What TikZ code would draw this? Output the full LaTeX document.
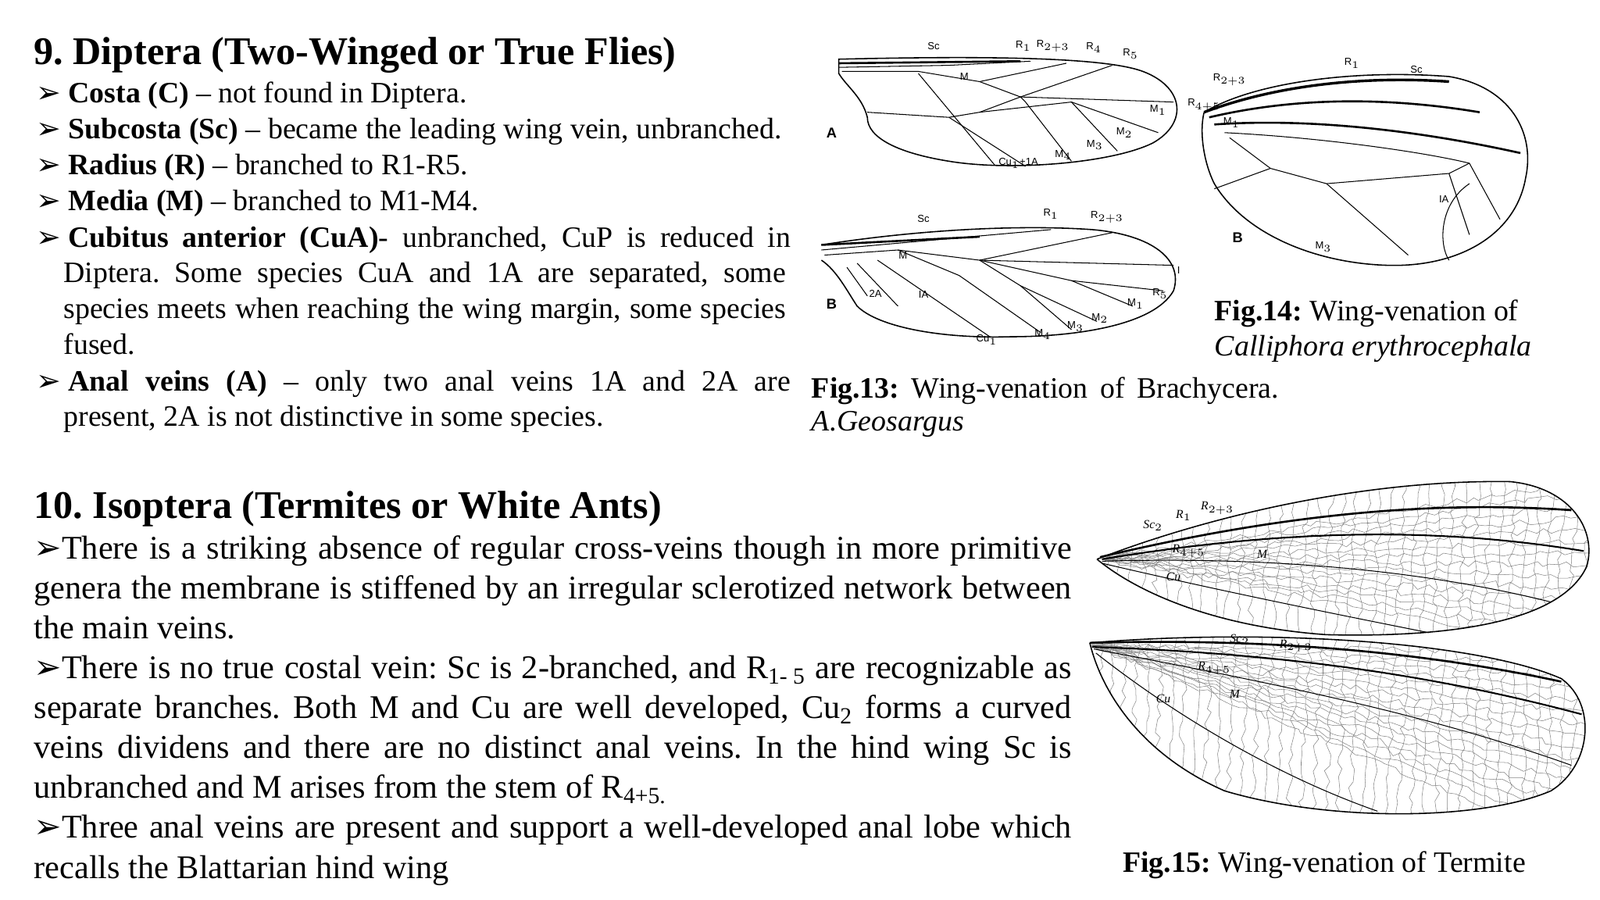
\documentclass[tikz,border=0pt]{standalone}
\usepackage{fontspec}
\setmainfont{Liberation Serif}
\setsansfont{Liberation Sans}
\newfontfamily\dv{DejaVu Sans}
\usetikzlibrary{decorations.pathmorphing}
\frenchspacing
\newcommand{\bul}{{\dv\char"27A2}}
\newcommand{\jl}[2]{\makebox[#1pt][s]{#2}}
\tikzset{
 x=0.5pt,y=-0.5pt,
 ttl/.style={anchor=base west,inner sep=0,font=\fontsize{19.2}{19}\selectfont\bfseries},
 ln/.style={anchor=base west,inner sep=0,font=\fontsize{14.5}{15}\selectfont},
 ln2/.style={anchor=base west,inner sep=0,font=\fontsize{16.2}{17}\selectfont},
 figcap/.style={anchor=base west,inner sep=0,font=\fontsize{14.5}{15}\selectfont},
 lab/.style={inner sep=0,font=\sffamily\fontsize{5}{5}\selectfont},
 tlab/.style={inner sep=0,font=\itshape\fontsize{6}{6}\selectfont},
 wing/.style={line width=0.6pt},
 vein/.style={line width=0.4pt},
 net/.style={line width=0.2pt,gray,decorate,decoration={random steps,segment length=4pt,amplitude=1.5pt}}
}
\begin{document}
\begin{tikzpicture}
\useasboundingbox (0,0) rectangle (1568,882);
% ---------- Diptera text
\node[ttl] (t9) at (33,63) {9. Diptera (Two-Winged or True Flies)};
\node[ln] (d1) at (35,101) {\bul\ \textbf{Costa (C)} – not found in Diptera.};
\node[ln] (d2) at (35,136) {\bul\ \textbf{Subcosta (Sc)} – became the leading wing vein, unbranched.};
\node[ln] (d3) at (35,171) {\bul\ \textbf{Radius (R)} – branched to R1-R5.};
\node[ln] (d4) at (35,206) {\bul\ \textbf{Media (M)} – branched to M1-M4.};
\node[ln] (d5) at (35,242) {\bul\ \jl{354}{\textbf{Cubitus anterior (CuA)}- unbranched, CuP is reduced in}};
\node[ln] (d6) at (62,277) {\jl{354}{Diptera. Some species CuA and 1A are separated, some}};
\node[ln] (d7) at (62,312) {\jl{354}{species meets when reaching the wing margin, some species}};
\node[ln] (d8) at (62,347) {fused.};
\node[ln] (d9) at (35,383) {\bul\ \jl{354}{\textbf{Anal veins (A)} – only two anal veins 1A and 2A are}};
\node[ln] (d10) at (62,418) {present, 2A is not distinctive in some species.};
% ---------- Isoptera text
\node[ttl] (t10) at (33,508) {10. Isoptera (Termites or White Ants)};
\node[ln2] (i1) at (33,548) {\jl{508.5}{\bul There is a striking absence of regular cross-veins though in more primitive}};
\node[ln2] (i2) at (33,587) {\jl{508.5}{genera the membrane is stiffened by an irregular sclerotized network between}};
\node[ln2] (i3) at (33,626) {the main veins.};
\node[ln2] (i4) at (33,665) {\jl{508.5}{\bul There is no true costal vein: Sc is 2-branched, and R\textsubscript{1- 5} are recognizable as}};
\node[ln2] (i5) at (33,704) {\jl{508.5}{separate branches. Both M and Cu are well developed, Cu\textsubscript{2} forms a curved}};
\node[ln2] (i6) at (33,743) {\jl{508.5}{veins dividens and there are no distinct anal veins. In the hind wing Sc is}};
\node[ln2] (i7) at (33,782) {unbranched and M arises from the stem of R\textsubscript{4+5.}};
\node[ln2] (i8) at (33,821) {\jl{508.5}{\bul Three anal veins are present and support a well-developed anal lobe which}};
\node[ln2] (i9) at (33,861) {recalls the Blattarian hind wing};
% ---------- captions
\node[figcap] (c13a) at (795,390) {\jl{229}{\textbf{Fig.13:} Wing-venation of Brachycera.}};
\node[figcap] (c13b) at (795,422) {\textit{A.Geosargus}};
\node[figcap] (c14a) at (1190,314) {\textbf{Fig.14:} Wing-venation of};
\node[figcap] (c14b) at (1190,349) {\textit{Calliphora erythrocephala}};
\node[figcap] (c15) at (1100,855) {\textbf{Fig.15:} Wing-venation of Termite};
% ---------- Fig 13 A
\draw[wing] (822,72) -- (822,58) .. controls (950,55) and (1080,55) .. (1120,70) .. controls (1160,85) and (1165,120) .. (1130,140) .. controls (1090,160) and (990,168) .. (930,158) .. controls (880,150) and (850,135) .. (850,115) .. controls (845,95) and (830,85) .. (822,72);
\draw[line width=1pt] (822,62) -- (1000,60);
\draw[vein] (822,66) -- (930,64) -- (1010,60);
\draw[vein] (825,70) -- (900,70) -- (960,80) -- (1045,62);
\draw[vein] (960,80) -- (1000,95) -- (1090,64);
\draw[vein] (1000,95) -- (1150,100);
\draw[vein] (1000,95) -- (960,110) -- (930,115) -- (850,110);
\draw[vein] (960,110) -- (1050,100) -- (1135,130);
\draw[vein] (1050,100) -- (1095,148);
\draw[vein] (1000,95) -- (1005,100) -- (1050,158);
\draw[vein] (930,115) -- (1005,163);
\draw[vein] (900,72) -- (975,162);
\node[lab] (a1) at (915,45) {Sc};\node[lab] (a2) at (1003,45) {R$_1$};\node[lab] (a3) at (1032,45) {R$_{2+3}$};
\node[lab] (a4) at (1072,47) {R$_4$};\node[lab] (a5) at (1108,53) {R$_5$};\node[lab] (a6) at (945,75) {M};
\node[lab] (a7) at (1135,108) {M$_1$};\node[lab] (a8) at (1102,130) {M$_2$};\node[lab] (a9) at (1073,142) {M$_3$};
\node[lab] (a10) at (1042,152) {M$_4$};\node[lab] (a11) at (998,160) {Cu$_1$+1A};
\node[lab,font=\sffamily\bfseries\fontsize{7}{7}\selectfont] (a12) at (815,130) {A};
% ---------- Fig 13 B
\draw[wing] (805,240) .. controls (900,225) and (1000,220) .. (1070,225) .. controls (1130,230) and (1160,255) .. (1150,285) .. controls (1130,320) and (1050,330) .. (990,330) .. controls (920,332) and (860,320) .. (840,300) .. controls (830,285) and (820,265) .. (805,255);
\draw[line width=1pt] (805,240) -- (960,232);
\draw[vein] (805,245) -- (1030,225);
\draw[vein] (808,250) -- (880,245) -- (960,255) -- (1090,228);
\draw[vein] (960,255) -- (1150,260);
\draw[vein] (960,255) -- (1050,275) -- (1140,285);
\draw[vein] (1050,275) -- (1110,300);
\draw[vein] (960,255) -- (1000,280) -- (1075,315);
\draw[vein] (1000,280) -- (1050,323);
\draw[vein] (880,245) -- (940,270) -- (1020,326);
\draw[vein] (860,255) -- (970,330);
\draw[vein] (830,262) -- (850,290);
\draw[vein] (840,258) -- (880,300);
\node[lab] (b1) at (905,214) {Sc};\node[lab] (b2) at (1030,210) {R$_1$};\node[lab] (b3) at (1085,213) {R$_{2+3}$};
\node[lab] (b4) at (885,250) {M};\node[lab] (b5) at (858,288) {2A};\node[lab] (b6) at (905,289) {IA};
\node[lab] (b7) at (1137,288) {R$_5$};\node[lab] (b8) at (1113,298) {M$_1$};\node[lab] (b9) at (1078,312) {M$_2$};
\node[lab] (b10) at (1054,320) {M$_3$};\node[lab] (b11) at (1022,328) {M$_4$};\node[lab] (b12) at (967,333) {Cu$_1$};
\node[lab] (b13) at (1155,265) {I};
\node[lab,font=\sffamily\bfseries\fontsize{7}{7}\selectfont] (b14) at (815,298) {B};
% ---------- Fig 14
\draw[wing] (1180,110) .. controls (1230,80) and (1330,68) .. (1420,75) .. controls (1480,85) and (1505,130) .. (1495,175) .. controls (1485,230) and (1430,262) .. (1360,260) .. controls (1290,258) and (1220,230) .. (1190,180) .. controls (1180,160) and (1175,130) .. (1180,110);
\draw[line width=1.3pt] (1180,110) .. controls (1260,80) and (1350,75) .. (1420,80);
\draw[line width=1pt] (1185,115) .. controls (1270,95) and (1360,95) .. (1450,110);
\draw[line width=1pt] (1190,122) .. controls (1290,115) and (1400,130) .. (1490,150);
\draw[vein] (1200,130) .. controls (1300,135) and (1400,150) .. (1440,160) -- (1470,215);
\draw[vein] (1440,160) -- (1420,170) -- (1300,180) -- (1245,165) -- (1205,135);
\draw[vein] (1300,180) -- (1380,250);
\draw[vein] (1420,170) -- (1440,230);
\draw[vein] (1245,165) -- (1190,185);
\draw[vein] (1440,180) .. controls (1410,200) and (1410,240) .. (1420,255);
\node[lab] (f1) at (1325,62) {R$_1$};\node[lab] (f2) at (1388,68) {Sc};\node[lab] (f3) at (1205,78) {R$_{2+3}$};
\node[lab] (f4) at (1180,103) {R$_{4+5}$};\node[lab] (f5) at (1207,120) {M$_1$};\node[lab] (f6) at (1415,195) {IA};
\node[lab] (f7) at (1297,242) {M$_3$};
\node[lab,font=\sffamily\bfseries\fontsize{7}{7}\selectfont] (f8) at (1213,233) {B};
% ---------- Fig 15 top
\begin{scope}
\clip (1075,548) .. controls (1200,500) and (1350,470) .. (1480,472) .. controls (1540,478) and (1565,520) .. (1555,555) .. controls (1530,610) and (1420,625) .. (1300,622) .. controls (1200,615) and (1120,585) .. (1075,548);
\foreach \i in {0,...,14} \draw[net] (1080,548) -- (1560,470+\i*12);
\foreach \i in {0,...,40} \draw[net] (1090+\i*12,470) -- (1080+\i*12,630);
\end{scope}
\draw[wing] (1075,548) .. controls (1200,500) and (1350,470) .. (1480,472) .. controls (1540,478) and (1565,520) .. (1555,555) .. controls (1530,610) and (1420,625) .. (1300,622) .. controls (1200,615) and (1120,585) .. (1075,548);
\draw[line width=1pt] (1078,546) .. controls (1250,505) and (1400,490) .. (1540,500);
\draw[line width=0.8pt] (1080,548) .. controls (1250,520) and (1400,515) .. (1552,540);
\draw[vein] (1080,550) .. controls (1250,545) and (1400,560) .. (1520,590);
\draw[vein] (1080,552) .. controls (1200,580) and (1300,600) .. (1400,620);
\node[tlab] (g1) at (1130,515) {Sc$_2$};
\node[tlab] (g2) at (1160,505) {R$_1$};
\node[tlab] (g3) at (1193,498) {R$_{2+3}$};
\node[tlab] (g4) at (1165,540) {R$_{4+5}$};
\node[tlab] (g5) at (1237,543) {M};
\node[tlab] (g6) at (1150,565) {Cu};
% ---------- Fig 15 bottom
\begin{scope}
\clip (1068,630) .. controls (1250,615) and (1450,630) .. (1530,665) .. controls (1565,690) and (1560,750) .. (1520,775) .. controls (1450,805) and (1300,805) .. (1200,775) .. controls (1120,740) and (1080,680) .. (1068,630);
\foreach \i in {0,...,16} \draw[net] (1070,632) -- (1560,640+\i*12);
\foreach \i in {0,...,40} \draw[net] (1080+\i*12,620) -- (1070+\i*12,810);
\end{scope}
\draw[wing] (1068,630) .. controls (1250,615) and (1450,630) .. (1530,665) .. controls (1565,690) and (1560,750) .. (1520,775) .. controls (1450,805) and (1300,805) .. (1200,775) .. controls (1120,740) and (1080,680) .. (1068,630);
\draw[line width=1pt] (1068,630) .. controls (1250,625) and (1400,640) .. (1530,668);
\draw[line width=0.8pt] (1070,634) .. controls (1250,640) and (1400,660) .. (1550,700);
\draw[vein] (1072,636) .. controls (1250,670) and (1400,700) .. (1540,750);
\draw[vein] (1074,640) .. controls (1150,700) and (1250,760) .. (1350,795);
\node[tlab] (h1) at (1215,627) {Sc$_2$};
\node[tlab] (h2) at (1270,633) {R$_{2+3}$};
\node[tlab] (h3) at (1190,655) {R$_{4+5}$};
\node[tlab] (h4) at (1210,680) {M};
\node[tlab] (h5) at (1140,685) {Cu};
\end{tikzpicture}
\end{document}
